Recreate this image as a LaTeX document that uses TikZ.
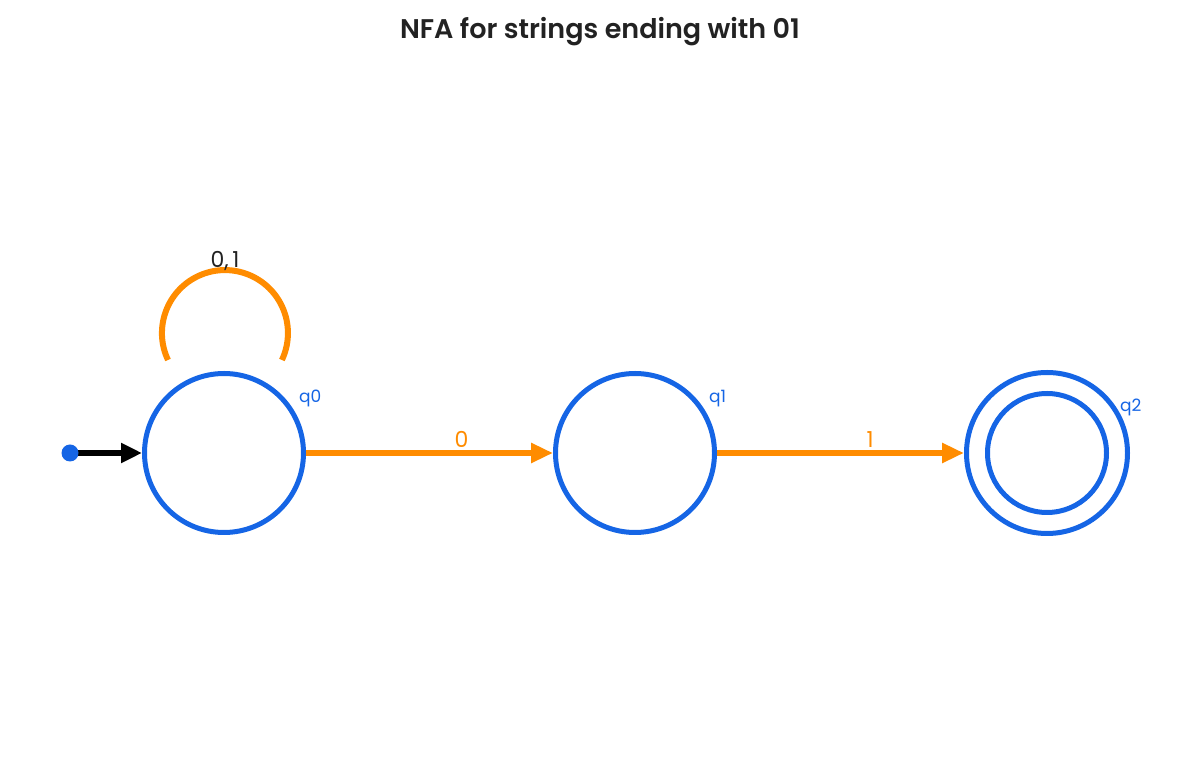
\documentclass[tikz,border=0pt]{standalone}
\usepackage{fontspec}
\setmainfont{Poppins}
\newfontfamily\titlefont{Poppins SemiBold}
\usetikzlibrary{arrows.meta,calc}
\definecolor{stblue}{HTML}{1565E5}
\definecolor{edgeorange}{HTML}{FF8C00}
\definecolor{titlegray}{HTML}{222222}
\begin{document}
\begin{tikzpicture}[x=1pt,y=1pt,
  state/.style={circle,draw=stblue,line width=5pt,inner sep=0pt,minimum size=159pt},
  trans/.style={draw=edgeorange,line width=6pt,-{Triangle[length=22pt,width=19pt]}},
  edgelabel/.style={text=edgeorange,font=\fontsize{22}{25}\selectfont,inner sep=2pt},
  statelabel/.style={text=stblue,font=\fontsize{17}{20}\selectfont,inner sep=0pt},
  initarrow/.style={draw=black,line width=6pt,-{Triangle[length=21pt,width=19pt]}},
  loopedge/.style={draw=edgeorange,line width=6pt}
]
\useasboundingbox (0,0) rectangle (1200,763);
% title
\node[text=titlegray,font=\fontsize{27}{32}\titlefont] (title) at (600,731) {NFA for strings ending with 01};
% states
\node[state] (q0) at (224,310) {};
\node[state] (q1) at (635,310) {};
\node[state,minimum size=161pt] (q2) at (1047,310) {};
\draw[stblue,line width=5pt] (q2.center) circle (59.5);
% state labels
\node[statelabel,anchor=west] (l0) at (299,365) {q0};
\node[statelabel,anchor=west] (l1) at (709,364) {q1};
\node[statelabel,anchor=west] (l2) at (1120,356) {q2};
% initial
\coordinate (start) at (70,310);
\draw[initarrow] (start) -- (q0);
\node[circle,fill=stblue,inner sep=0pt,minimum size=17pt] (init) at (start) {};
% transitions
\draw[trans] (q0) -- node[edgelabel,pos=0.63,above] (e0) {0} (q1);
\draw[trans] (q1) -- node[edgelabel,pos=0.62,above] (e1) {1} (q2);
% self loop
\coordinate (la) at ($(q0.center)+(-56,93)$);
\coordinate (lb) at ($(q0.center)+(57,93)$);
\draw[loopedge] (la) arc[start angle=205.3,end angle=-25.3,radius=63];
\node[text=titlegray,font=\fontsize{22}{25}\selectfont] (ll) at (225,502) {0,\,1};
\end{tikzpicture}
\end{document}
